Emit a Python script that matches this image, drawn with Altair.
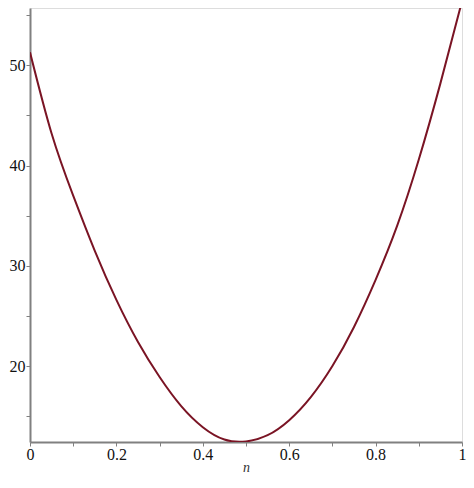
import altair as alt
import pandas as pd

# values
n_values = [0.0, 0.05, 0.1, 0.15, 0.2, 0.25, 0.3, 0.35, 0.4, 0.45,
            0.5, 0.55, 0.6, 0.65, 0.7, 0.75, 0.8, 0.85, 0.9, 0.95, 1.0]
f_values = [51.3, 43.2, 37.0, 31.5, 26.6, 22.4, 18.9, 16.0, 13.9, 12.67,
            12.48, 13.1, 14.6, 16.9, 20.0, 23.9, 28.6, 34.0, 40.6, 48.2, 56.4]
x_ticks = [0.0, 0.1, 0.2, 0.3, 0.4, 0.5, 0.6, 0.7, 0.8, 0.9, 1.0]
y_ticks = [15, 20, 25, 30, 35, 40, 45, 50, 55]

df = pd.DataFrame({"n": n_values, "f": f_values})

font = "Liberation Serif"
axis_color = "#808080"

chart = alt.Chart(df).mark_line(
    color="#7A1424", strokeWidth=2, interpolate="natural", clip=True
).encode(
    x=alt.X("n:Q",
            scale=alt.Scale(domain=[0, 1], nice=False, zero=False),
            axis=alt.Axis(
                values=x_ticks,
                labelExpr="round(datum.value*10)%2==0 ? toString(round(datum.value*10)/10) : ''",
                title="n", titleFontStyle="italic", titleFont=font, titleFontSize=14,
                titleFontWeight="normal", titleColor="#333333", titlePadding=-2,
                labelFont=font, labelFontSize=16, labelColor="#111111",
                labelPadding=0, tickSize=4, tickColor=axis_color, tickWidth=1,
                domainColor=axis_color, domainWidth=2, grid=False,
                labelFlush=False, labelOverlap=False)),
    y=alt.Y("f:Q",
            scale=alt.Scale(domain=[12.42, 55.72], nice=False, zero=False),
            axis=alt.Axis(
                values=y_ticks,
                labelExpr="datum.value%10==0 ? toString(datum.value) : ''",
                title=None,
                labelFont=font, labelFontSize=16, labelColor="#111111",
                labelPadding=1, tickSize=4, tickColor=axis_color, tickWidth=1,
                domainColor=axis_color, domainWidth=2, grid=False,
                labelFlush=False, labelOverlap=False)),
).properties(
    width=432, height=434,
    autosize=alt.AutoSizeParams(type="none"),
    padding={"left": 22, "top": 0, "right": 4, "bottom": 34},
).configure_view(stroke=None).configure(background="white")

chart.save("out.html", embed_options={"renderer": "svg", "actions": False})
